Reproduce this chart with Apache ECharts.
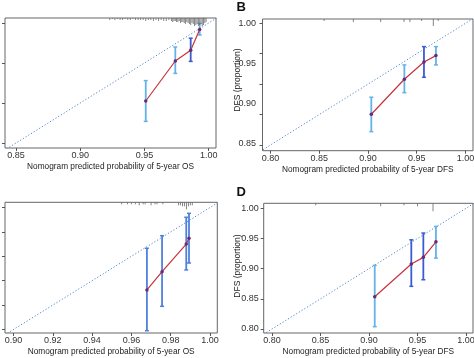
<!DOCTYPE html>
<html><head><meta charset="utf-8">
<script src="https://cdn.jsdelivr.net/npm/echarts@6/dist/echarts.min.js"></script>
<style>html,body{margin:0;padding:0;background:#fff}#c{width:474px;height:358px}</style>
</head><body><div id="c"></div>
<script>
// ---------------- data ----------------
const panelLetters = ['B', 'D'];
const xTitleOS = 'Nomogram predicted probability of 5-year OS';
const xTitleDFS = 'Nomogram predicted probability of 5-year DFS';
const yTitleDFS = 'DFS (proportion)';

// tick values
const ticksA_x = [0.85, 0.90, 0.95, 1.00];
const ticksA_y = [0.85, 0.90, 0.95, 1.00];
const ticksB_x = [0.80, 0.85, 0.90, 0.95, 1.00];
const ticksB_y = [0.80, 0.85, 0.90, 0.95, 1.00];
const labelsB_y = [0.85, 0.90, 0.95, 1.00];   // printed labels (shifted in the original figure)
const ticksC_x = [0.90, 0.92, 0.94, 0.96, 0.98, 1.00];
const ticksC_y = [0.90, 0.92, 0.94, 0.96, 0.98, 1.00];
const ticksD_x = [0.80, 0.85, 0.90, 0.95, 1.00];
const ticksD_y = [0.80, 0.85, 0.90, 0.95, 1.00];

// Panel A (5-year OS, top-left)
const predA = [0.951, 0.974, 0.986, 0.993];
const obsA  = [0.9025, 0.9525, 0.966, 0.992];
const lowA  = [0.877, 0.937, 0.952, 0.985];
const highA = [0.928, 0.970, 0.981, 0.9995];
// Panel B (5-year DFS, top-right)
const predB = [0.9034, 0.9373, 0.9574, 0.9697];
const obsB  = [0.8505, 0.908, 0.9365, 0.9469];
const lowB  = [0.8219, 0.886, 0.9113, 0.9316];
const highB = [0.8785, 0.9316, 0.9617, 0.9617];
// Panel C (5-year OS, bottom-left)
const predC = [0.9679, 0.9756, 0.9879, 0.9893];
const obsC  = [0.9324, 0.9474, 0.970, 0.9747];
const lowC  = [0.899, 0.919, 0.9488, 0.9545];
const highC = [0.9666, 0.9769, 0.992, 0.9952];
// Panel D (5-year DFS, bottom-right)
const predD = [0.9059, 0.9436, 0.956, 0.969];
const obsD  = [0.8535, 0.9076, 0.9187, 0.9445];
const lowD  = [0.8038, 0.8707, 0.8816, 0.9175];
const highD = [0.9055, 0.9478, 0.959, 0.970];

// rug of predicted probabilities along the top (position, relative count)
const rugA_x = [0.923,0.925,0.927,0.929,0.931,0.933,0.935,0.937,0.939,0.941,0.943,0.945,0.947,0.949,0.951,0.953,0.955,0.957,0.959,0.961,0.963,0.965,0.967,0.969,0.971,0.972,0.973,0.974,0.975,0.976,0.977,0.978,0.979,0.980,0.981,0.982,0.983,0.984,0.985,0.986,0.987,0.988,0.989,0.990,0.991,0.992,0.993,0.994,0.995,0.996,0.997,0.998];
const rugA_n = [1,0,1,0,1,1,0,1,1,0,1,1,1,1,2,1,1,2,1,2,1,2,2,1,2,3,2,2,3,3,2,4,3,3,4,5,3,4,5,6,4,5,7,6,5,7,6,5,7,6,4,3];
const rugB_x = [0.855,0.885,0.913,0.937,0.943,0.955,0.967,0.972];
const rugB_n = [1,2,2,2,2,1,6,1];
const rugC_x = [0.955,0.958,0.960,0.962,0.964,0.966,0.967,0.970,0.972,0.973,0.976,0.984,0.985,0.986,0.987,0.988,0.989,0.990,0.991];
const rugC_n = [1,1,1,1,2,1,1,2,1,1,1,2,2,3,3,6,3,2,2];
const rugD_x = [0.845,0.912,0.936,0.950,0.966];
const rugD_n = [1,2,1,2,7];

// ---------------- styling / layout ----------------
const FONT = 'Liberation Sans, Arial, sans-serif';
const LIGHT = '#62b3e8', DARK = '#3a5cd0', MID = '#4f80dc';
const barColors = [
  [LIGHT, LIGHT, DARK, LIGHT],
  [LIGHT, LIGHT, DARK, LIGHT],
  [MID, MID, MID, MID],
  [LIGHT, DARK, DARK, LIGHT]
];
const grids = [
  {left: 5, top: 18, width: 211, height: 130},
  {left: 262.5, top: 19, width: 210.5, height: 131.7},
  {left: 5, top: 202.3, width: 212.3, height: 130.7},
  {left: 263.7, top: 203.3, width: 209.3, height: 129.7}
].map(g => Object.assign({show: true, borderColor: '#666', borderWidth: 1, backgroundColor: 'transparent', outerBoundsMode: 'none'}, g));

const fmt = v => Number(v).toFixed(2);
function xAx(gi, min, max, ticks, title) {
  return {
    type: 'value', gridIndex: gi, min, max,
    axisLine: {show: false},
    axisTick: {show: true, inside: false, length: 3, lineStyle: {color: '#555'}, customValues: ticks},
    axisLabel: {show: true, margin: 3, fontSize: 9, color: '#333', fontFamily: FONT, formatter: fmt, customValues: ticks, showMinLabel: true, showMaxLabel: true},
    splitLine: {show: false},
    name: title, nameLocation: 'middle', nameGap: 15,
    nameTextStyle: {fontSize: 8.3, color: '#222', fontFamily: FONT}
  };
}
function yAx(gi, min, max, ticks, showLabels) {
  return {
    type: 'value', gridIndex: gi, min, max, position: 'left',
    axisLine: {show: false},
    axisTick: {show: true, inside: false, length: 3, lineStyle: {color: '#555'}, customValues: ticks},
    axisLabel: {show: showLabels, margin: 5, fontSize: 9, color: '#333', fontFamily: FONT, formatter: fmt, customValues: ticks},
    splitLine: {show: false}
  };
}

function errSeries(gi, pred, low, high, colors) {
  return {
    type: 'custom', xAxisIndex: gi, yAxisIndex: gi, z: 3,
    data: pred.map((p, i) => [p, low[i], high[i]]),
    renderItem: function (params, api) {
      const x = api.value(0), lo = api.value(1), hi = api.value(2);
      const a = api.coord([x, hi]), b = api.coord([x, lo]);
      const c = colors[params.dataIndex];
      const cap = 2;
      return {type: 'group', children: [
        {type: 'line', shape: {x1: a[0], y1: a[1], x2: b[0], y2: b[1]}, style: {stroke: c, lineWidth: 1.8}},
        {type: 'line', shape: {x1: a[0] - cap, y1: a[1], x2: a[0] + cap, y2: a[1]}, style: {stroke: c, lineWidth: 1.5}},
        {type: 'line', shape: {x1: b[0] - cap, y1: b[1], x2: b[0] + cap, y2: b[1]}, style: {stroke: c, lineWidth: 1.5}}
      ]};
    }
  };
}
function curveSeries(gi, pred, obs) {
  return {
    type: 'line', xAxisIndex: gi, yAxisIndex: gi, z: 4,
    data: pred.map((p, i) => [p, obs[i]]),
    lineStyle: {color: '#c8323c', width: 1.2},
    symbol: 'circle', symbolSize: 3.5,
    itemStyle: {color: '#6a2a70', borderWidth: 0},
    emphasis: {disabled: true}
  };
}
function diagSeries(gi) {
  return {
    type: 'line', xAxisIndex: gi, yAxisIndex: gi, z: 2, clip: true,
    data: [[0.5, 0.5], [1.1, 1.1]],
    symbol: 'none',
    lineStyle: {color: '#4f86c6', width: 1, type: [1.2, 2]},
    emphasis: {disabled: true}
  };
}
function rugSeries(gi, xs, ns) {
  return {
    type: 'custom', xAxisIndex: gi, yAxisIndex: gi, z: 5,
    data: xs.map((x, i) => [x, ns[i]]),
    renderItem: function (params, api) {
      const cs = params.coordSys;
      const x = api.coord([api.value(0), 0.9])[0];
      const top = cs.y;
      const len = 1 + api.value(1) * 1.0;
      return {type: 'line', shape: {x1: x, y1: top, x2: x, y2: top + len}, style: {stroke: '#666', lineWidth: 0.8}};
    }
  };
}

const option = {
  animation: false,
  backgroundColor: '#fff',
  textStyle: {fontFamily: FONT},
  grid: grids,
  xAxis: [
    xAx(0, 0.8414, 1.0057, ticksA_x, xTitleOS),
    xAx(1, 0.7918, 1.0077, ticksB_x, xTitleDFS),
    xAx(2, 0.8957, 1.0037, ticksC_x, xTitleOS),
    xAx(3, 0.79144, 1.0072, ticksD_x, xTitleDFS)
  ],
  yAxis: [
    yAx(0, 0.84375, 1.00625, ticksA_y, false),
    yAx(1, 0.7906, 1.0071, ticksB_y, false),
    yAx(2, 0.89713, 1.00426, ticksC_y, false),
    yAx(3, 0.79337, 1.00828, ticksD_y, true),
    Object.assign(yAx(1, 0.8408, 1.0053, labelsB_y, true), {axisTick: {show: false}, axisLabel: {show: true, margin: 6.5, fontSize: 9, color: '#333', fontFamily: FONT, formatter: fmt, customValues: labelsB_y}})
  ],
  series: [
    diagSeries(0), errSeries(0, predA, lowA, highA, barColors[0]), curveSeries(0, predA, obsA), rugSeries(0, rugA_x, rugA_n),
    diagSeries(1), errSeries(1, predB, lowB, highB, barColors[1]), curveSeries(1, predB, obsB), rugSeries(1, rugB_x, rugB_n),
    diagSeries(2), errSeries(2, predC, lowC, highC, barColors[2]), curveSeries(2, predC, obsC), rugSeries(2, rugC_x, rugC_n),
    diagSeries(3), errSeries(3, predD, lowD, highD, barColors[3]), curveSeries(3, predD, obsD), rugSeries(3, rugD_x, rugD_n)
  ],
  graphic: [
    {type: 'text', x: 236.5, y: 1, style: {text: panelLetters[0], font: 'bold 13px ' + FONT, fill: '#111', textAlign: 'left', textVerticalAlign: 'top'}},
    {type: 'text', x: 236.5, y: 186, style: {text: panelLetters[1], font: 'bold 13px ' + FONT, fill: '#111', textAlign: 'left', textVerticalAlign: 'top'}},
    {type: 'text', x: 237.5, y: 80, rotation: Math.PI / 2, style: {text: yTitleDFS, font: '8.5px ' + FONT, fill: '#222', textAlign: 'center', textVerticalAlign: 'middle'}},
    {type: 'text', x: 237.5, y: 266, rotation: Math.PI / 2, style: {text: yTitleDFS, font: '8.5px ' + FONT, fill: '#222', textAlign: 'center', textVerticalAlign: 'middle'}}
  ]
};
const chart = echarts.init(document.getElementById('c'), null, {renderer: 'canvas'});
chart.setOption(option);
</script>
</body></html>
